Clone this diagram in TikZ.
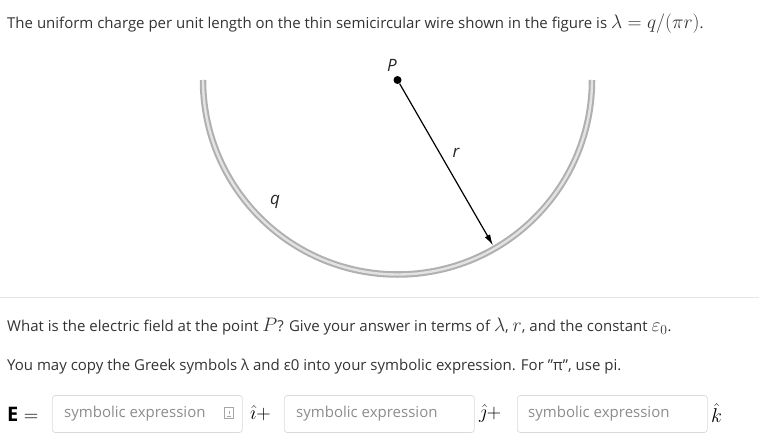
\RequirePackage{fix-cm}
\documentclass[tikz,border=0pt]{standalone}
\usepackage{fontspec}
\setmainfont{Open Sans}
\usepackage{tikz}
\usetikzlibrary{calc,positioning,arrows.meta}
\newcommand{\mth}[1]{{\fontsize{19.5}{17}\selectfont$#1$}}

\begin{document}
\begin{tikzpicture}[x=1pt, y=-1pt, every node/.style={inner sep=0pt}]
      \tikzset{
	  txt/.style={anchor=west, font=\fontsize{15}{17}\selectfont, text=black!80},
	  wire/.style={line width=6.5pt, draw=gray!62},
	  wirelight/.style={line width=2.4pt, draw=gray!22},
	  label/.style={font=\fontsize{17}{20}\selectfont\itshape, text=black!85},
	  ansbox/.style={draw=gray!30, line width=0.7pt, rounded corners=3pt, minimum width=190pt, minimum height=37pt, anchor=west},
	  hint/.style={anchor=west, font=\fontsize{15}{17}\selectfont, text=gray!90},
	  unit/.style={anchor=west, font=\fontsize{20}{20}\selectfont}
      }
      \useasboundingbox (0,0) rectangle (759,441);

      \node at (7, 24) [txt] (intro) {The uniform charge per unit length on the thin semicircular wire shown in the figure is \mth{\lambda = q/(\pi r)}.};

      \coordinate (O) at (397.5, 80);
      \draw[wire] (O) ++(-194.5,0) arc[start angle=180, end angle=0, radius=194.5];
      \draw[wirelight] (O) ++(-194.5,0) arc[start angle=180, end angle=0, radius=194.5];

      \node at (O) [circle, fill=black, minimum size=8pt] (P) {};
      \node at (392, 65) [label] (Plab) {P};
      \coordinate (tip) at ($(O)+(60:191)$);
      \draw[line width=1.2pt, -{Latex[length=11pt,width=6pt]}] (P) -- (tip);
      \node at (456, 153) [label] (rlab) {r};
      \node at (275, 202) [label] (qlab) {q};

      \draw[gray!20, line width=0.8pt] (0, 297) -- (759, 297);

      \node at (7, 327) [txt] (question) {What is the electric field at the point \mth{P}? Give your answer in terms of \mth{\lambda}, \mth{r}, and the constant \mth{\varepsilon_0}.};
      \node at (7, 367) [txt] (note) {You may copy the Greek symbols λ and ε0 into your symbolic expression. For "π", use pi.};

      \node at (7, 414) [unit] (E) {$\mathbf{E} =$};
      \node at (52, 414) [ansbox] (box1) {};
      \node at (284, 414) [ansbox] (box2) {};
      \node at (517, 414) [ansbox] (box3) {};
      \node at (64, 414) [hint] (h1) {symbolic expression};
      \node at (296, 414) [hint] (h2) {symbolic expression};
      \node at (528, 414) [hint] (h3) {symbolic expression};
      \node at (229, 413) [draw=gray!70, line width=0.6pt, minimum width=9pt, minimum height=11pt] (icon) {};
      \draw[gray!70, line width=0.8pt] ($(icon.center)+(0,-2.5)$) -- ($(icon.center)+(0,1)$);
      \draw[gray!70, line width=0.8pt] ($(icon.center)+(-2,3)$) -- ($(icon.center)+(2,3)$);
      \node at (250, 413) [unit] (ihat) {$\hat{\imath}+$};
      \node at (479, 413) [unit] (jhat) {$\hat{\jmath}+$};
      \node at (711, 413) [unit] (khat) {$\hat{k}$};
\end{tikzpicture}
\end{document}
